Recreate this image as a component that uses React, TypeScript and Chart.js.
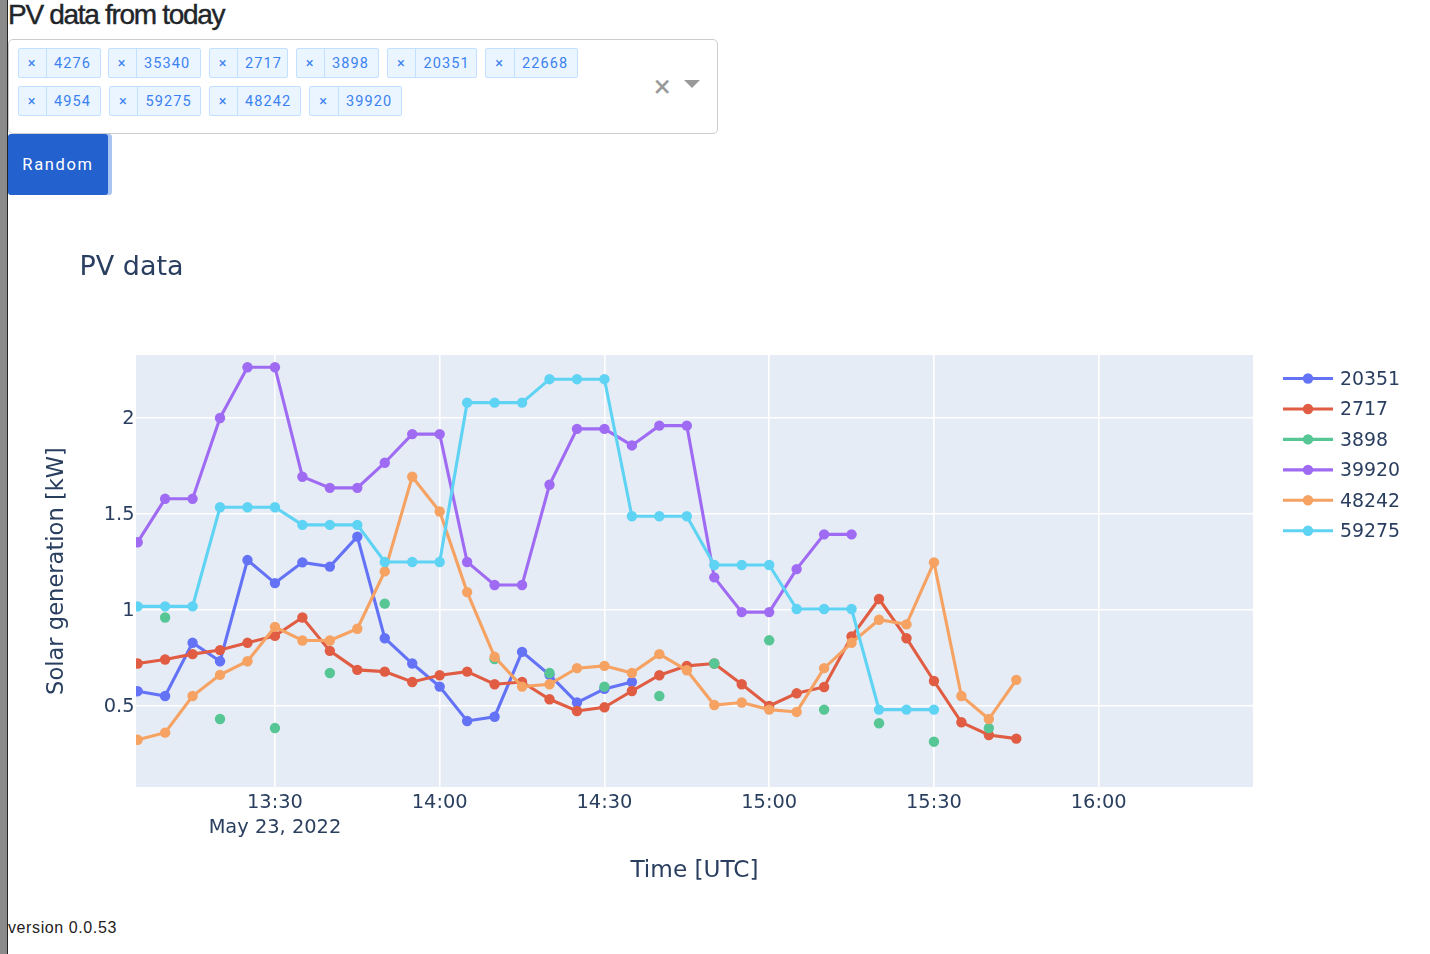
import React, { useEffect, useRef } from 'react';
import Chart from 'chart.js/auto';

const lineTimes = [
  '13:05', '13:10', '13:15', '13:20', '13:25', '13:30', '13:35', '13:40', '13:45', '13:50', '13:55',
  '14:00', '14:05', '14:10', '14:15', '14:20', '14:25', '14:30', '14:35', '14:40', '14:45', '14:50', '14:55',
  '15:00', '15:05', '15:10', '15:15', '15:20', '15:25', '15:30', '15:35', '15:40', '15:45',
];
const greenTimes = [
  '13:10', '13:20', '13:30', '13:40', '13:50', '14:10', '14:20', '14:30', '14:40', '14:50', '15:00', '15:10',
  '15:20', '15:30', '15:40',
];

const values20351 = [
  0.577, 0.552, 0.829, 0.733, 1.26, 1.14, 1.248, 1.226, 1.382, 0.853, 0.721, 0.601, 0.422, 0.444, 0.782, 0.662,
  0.518, 0.589, 0.625,
];
const values2717 = [
  0.721, 0.742, 0.77, 0.791, 0.829, 0.865, 0.961, 0.787, 0.688, 0.679, 0.625, 0.66, 0.679, 0.613, 0.625, 0.535,
  0.474, 0.493, 0.578, 0.66, 0.709, 0.721, 0.613, 0.5, 0.566, 0.599, 0.862, 1.057, 0.853, 0.63, 0.415, 0.349, 0.33,
];
const values3898 = [0.961, 0.432, 0.385, 0.672, 1.033, 0.744, 0.672, 0.601, 0.552, 0.721, 0.842, 0.481, 0.41, 0.314, 0.385];
const values39920 = [
  1.353, 1.579, 1.579, 2.0, 2.264, 2.264, 1.694, 1.636, 1.636, 1.767, 1.916, 1.916, 1.25, 1.13, 1.13, 1.652,
  1.943, 1.943, 1.857, 1.96, 1.96, 1.17, 0.989, 0.989, 1.213, 1.394, 1.394,
];
const values48242 = [
  0.324, 0.361, 0.552, 0.662, 0.733, 0.912, 0.841, 0.841, 0.902, 1.201, 1.694, 1.513, 1.093, 0.756, 0.601, 0.613,
  0.697, 0.709, 0.672, 0.77, 0.686, 0.505, 0.518, 0.481, 0.469, 0.697, 0.829, 0.949, 0.925, 1.248, 0.552, 0.432, 0.636,
];
const values59275 = [
  1.019, 1.019, 1.019, 1.535, 1.535, 1.535, 1.443, 1.443, 1.443, 1.25, 1.25, 1.25, 2.08, 2.08, 2.08, 2.202,
  2.202, 2.202, 1.488, 1.488, 1.488, 1.234, 1.234, 1.234, 1.005, 1.005, 1.005, 0.481, 0.481, 0.481,
];

const xTickTimes = ['13:30', '14:00', '14:30', '15:00', '15:30', '16:00'];
const yTickValues = [0.5, 1, 1.5, 2];
const chipRows = [
  [
    ['4276', 18, 101, 45.5],
    ['35340', 108, 201, 135.5],
    ['2717', 209, 288, 236.5],
    ['3898', 296, 379, 323.5],
    ['20351', 387, 477, 415],
    ['22668', 485, 578, 513.5],
  ],
  [
    ['4954', 18, 101, 45.5],
    ['59275', 109, 201, 137],
    ['48242', 209, 301, 236.5],
    ['39920', 309, 402, 337.5],
  ],
];

const TEXT = '#2a3f5f';
const FONT = '"DejaVu Sans", Verdana, sans-serif';

const minutes = (t: string) => {
  const [h, m] = t.split(':').map(Number);
  return h * 60 + m;
};
const clock = (v: number) => `${Math.floor(v / 60)}:${String(v % 60).padStart(2, '0')}`;
const points = (times: string[], values: number[]) => values.map((y, i) => ({ x: minutes(times[i]), y }));

const series = (label: string, color: string, times: string[], values: number[], order: number, showLine = true) => ({
  label,
  data: points(times, values),
  borderColor: color,
  backgroundColor: color,
  borderWidth: 3.1,
  pointRadius: 5.2,
  pointBorderWidth: 0,
  pointHoverRadius: 5.2,
  tension: 0,
  showLine,
  order,
  clip: 0,
});

// plot background, plus the title and the line+marker legend that plotly puts outside the axes
const plotDecor = {
  id: 'plotDecor',
  beforeDraw(chart: any) {
    const { ctx, chartArea: a } = chart;
    ctx.save();
    ctx.fillStyle = '#e5ecf6';
    ctx.fillRect(a.left, a.top, a.right - a.left, a.bottom - a.top);
    ctx.restore();
  },
  afterDraw(chart: any) {
    const { ctx } = chart;
    ctx.save();
    ctx.fillStyle = TEXT;
    ctx.textBaseline = 'middle';
    ctx.font = `27px ${FONT}`;
    ctx.fillText('PV data', 79.5, 67.5);
    ctx.font = `18.9px ${FONT}`;
    chart.data.datasets.forEach((d: any, i: number) => {
      const y = 178.5 + i * 30.45;
      ctx.strokeStyle = d.borderColor;
      ctx.fillStyle = d.borderColor;
      ctx.lineWidth = 3.1;
      ctx.beginPath();
      ctx.moveTo(1283, y);
      ctx.lineTo(1333, y);
      ctx.stroke();
      ctx.beginPath();
      ctx.arc(1308, y, 5.2, 0, Math.PI * 2);
      ctx.fill();
      ctx.fillStyle = TEXT;
      ctx.fillText(d.label, 1340, y + 1.5);
    });
    ctx.restore();
  },
};

function PvChart() {
  const canvasRef = useRef<HTMLCanvasElement>(null);

  useEffect(() => {
    const canvas = canvasRef.current;
    if (!canvas) return;
    const chart = new Chart(canvas, {
      type: 'line',
      data: {
        datasets: [
          series('20351', '#6473f6', lineTimes, values20351, 6),
          series('2717', '#e05d43', lineTimes, values2717, 5),
          series('3898', '#56c695', greenTimes, values3898, 4, false),
          series('39920', '#a06bf3', lineTimes, values39920, 3),
          series('48242', '#f5a262', lineTimes, values48242, 2),
          series('59275', '#5fd3f3', lineTimes, values59275, 1),
        ],
      },
      options: {
        animation: false,
        responsive: false,
        layout: { padding: { left: 0, right: 177, top: 155, bottom: 0 } },
        plugins: { legend: { display: false }, title: { display: false }, tooltip: { enabled: false } },
        scales: {
          x: {
            type: 'linear',
            min: 784.7,
            max: 988.1,
            afterFit: (s: any) => {
              s.height = 113;
            },
            afterBuildTicks: (s: any) => {
              s.ticks = xTickTimes.map((t) => ({ value: minutes(t) }));
            },
            grid: { color: '#ffffff', lineWidth: 1.6, drawTicks: false },
            border: { display: false },
            ticks: {
              autoSkip: false,
              maxRotation: 0,
              padding: 4,
              color: TEXT,
              font: { family: FONT, size: 19.4, lineHeight: 1.28 },
              callback: (v: any, i: number) => (i === 0 ? [clock(v), 'May 23, 2022'] : clock(v)),
            },
            title: {
              display: true,
              text: 'Time [UTC]',
              color: TEXT,
              font: { family: FONT, size: 23.2, lineHeight: 1.2 },
              padding: { top: 0, bottom: 15.5 },
            },
          },
          y: {
            type: 'linear',
            min: 0.078,
            max: 2.328,
            afterFit: (s: any) => {
              s.width = 136;
            },
            afterBuildTicks: (s: any) => {
              s.ticks = yTickValues.map((value) => ({ value }));
            },
            grid: { color: '#ffffff', lineWidth: 1.6, drawTicks: false },
            border: { display: false },
            ticks: {
              padding: 1.5,
              labelOffset: 0.5,
              color: TEXT,
              font: { family: FONT, size: 19.4 },
              callback: (v: any) => String(v),
            },
            title: {
              display: true,
              text: 'Solar generation [kW]',
              color: TEXT,
              font: { family: FONT, size: 22.6, lineHeight: 1.2 },
              padding: { top: 43.5, bottom: 0 },
            },
          },
        },
      },
      plugins: [plotDecor],
    });
    return () => {
      chart.destroy();
    };
  }, []);

  return <canvas ref={canvasRef} width={1430} height={700} style={{ position: 'absolute', left: 0, top: 200 }} />;
}

const abs = (left: number, top: number, width: number, height: number): React.CSSProperties => ({
  position: 'absolute',
  left,
  top,
  width,
  height,
  boxSizing: 'border-box',
});

export default function App() {
  return (
    <div style={{ fontFamily: '"Liberation Sans", Arial, sans-serif' }}>
      <div style={{ ...abs(0, 0, 7, 954), background: '#8a8a8a' }} />
      <div style={{ ...abs(7, 0, 1, 954), background: '#222' }} />
      <div
        style={{
          position: 'absolute',
          left: 8,
          top: -2,
          fontSize: 28,
          lineHeight: '33px',
          letterSpacing: -1.3,
          color: '#212529',
          WebkitTextStroke: '0.4px #212529',
          whiteSpace: 'nowrap',
        }}
      >
        PV data from today
      </div>

      <div style={{ ...abs(8, 39, 710, 95), border: '1px solid #ccc', borderRadius: 5 }} />
      {chipRows.map((row, r) =>
        row.map(([label, left, right, divider]: any) => (
          <div
            key={label}
            style={{
              ...abs(left, r === 0 ? 48 : 86, right - left, 30),
              background: '#ebf5ff',
              border: '1px solid #c2e0ff',
              borderRadius: 2,
              color: '#3b82f0',
              fontFamily: 'Roboto, sans-serif',
              fontSize: 14.5,
              letterSpacing: 1.1,
              lineHeight: '29px',
            }}
          >
            <span style={{ position: 'absolute', left: 0, width: divider - left - 1, textAlign: 'center' }}>×</span>
            <span
              style={{
                position: 'absolute',
                left: divider - left - 1,
                top: 0,
                height: 28,
                borderLeft: '1px solid #c2e0ff',
              }}
            />
            <span style={{ position: 'absolute', left: divider - left + 7.5 }}>{label}</span>
          </div>
        )),
      )}
      <div
        style={{
          position: 'absolute',
          left: 654,
          top: 72,
          color: '#999',
          fontFamily: 'Roboto, sans-serif',
          fontSize: 31,
          lineHeight: '30px',
        }}
      >
        ×
      </div>
      <div
        style={{
          position: 'absolute',
          left: 684,
          top: 80,
          width: 0,
          height: 0,
          borderLeft: '8px solid transparent',
          borderRight: '8px solid transparent',
          borderTop: '8px solid #999',
        }}
      />

      <div
        style={{
          ...abs(8, 134, 100, 61),
          background: '#2361ce',
          borderRadius: 3,
          boxShadow: '4px 0 0 #a9c4f2',
          color: '#fff',
          fontFamily: 'Roboto, sans-serif',
          fontSize: 16.5,
          letterSpacing: 1.65,
          lineHeight: '61px',
          textAlign: 'center',
        }}
      >
        Random
      </div>

      <PvChart />

      <div style={{ position: 'absolute', left: 8, top: 919, fontSize: 16, lineHeight: '18px', letterSpacing: 0.6, color: '#222' }}>
        version 0.0.53
      </div>
    </div>
  );
}
